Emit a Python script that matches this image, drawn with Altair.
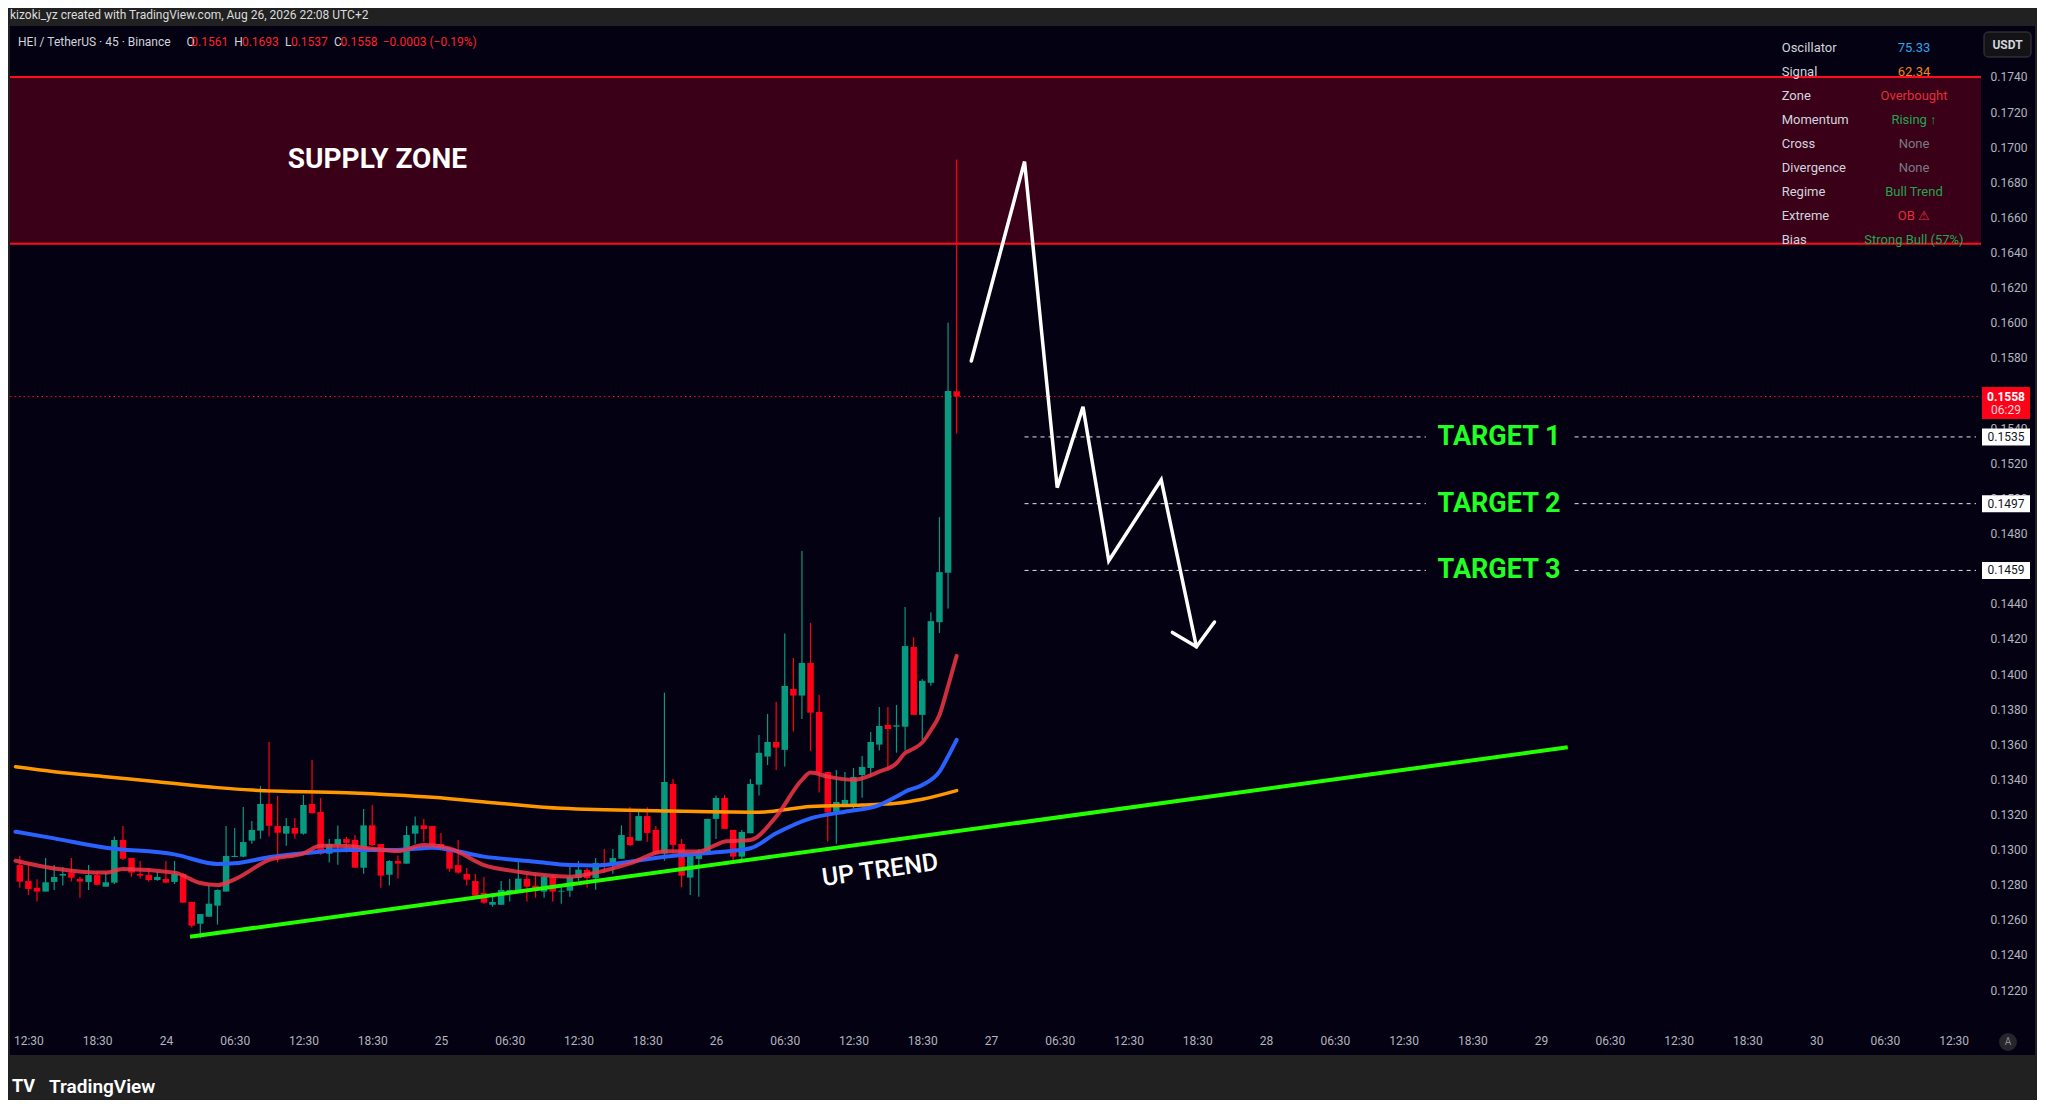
import altair as alt
import pandas as pd

# ---------------- data ----------------
bars = list(range(-1, 109))
opens = [
    0.12912, 0.12821, 0.12783, 0.12761, 0.12816, 0.12852, 0.12870, 0.12833, 0.12816, 0.12855,
    0.12789, 0.12812, 0.13055, 0.12952, 0.12861, 0.12855, 0.12827, 0.12833, 0.12816, 0.12861,
    0.12702, 0.12578, 0.12618, 0.12681, 0.12761, 0.12958, 0.12960, 0.13051, 0.13108, 0.13260,
    0.13134, 0.13091, 0.13123, 0.13091, 0.13260, 0.13214, 0.12977, 0.13028, 0.13060, 0.13055,
    0.12897, 0.13138, 0.13032, 0.12857, 0.12935, 0.12920, 0.13091, 0.13138, 0.13134, 0.13032,
    0.13003, 0.12912, 0.12861, 0.12821, 0.12753, 0.12686, 0.12686, 0.12762, 0.12766, 0.12833,
    0.12795, 0.12761, 0.12844, 0.12761, 0.12766, 0.12838, 0.12884, 0.12838, 0.12924, 0.12920,
    0.12948, 0.13072, 0.13051, 0.13191, 0.13112, 0.12977, 0.13374, 0.13032, 0.12841, 0.12947,
    0.12970, 0.13175, 0.13294, 0.13112, 0.12960, 0.13093, 0.13370, 0.13530, 0.13613, 0.13568,
    0.13915, 0.13877, 0.14063, 0.13784, 0.13442, 0.13216, 0.13256, 0.13256, 0.13425, 0.13465,
    0.13598, 0.13710, 0.13700, 0.13700, 0.14154, 0.13767, 0.13950, 0.14295, 0.14576, 0.15610,
]
highs = [
    0.12964, 0.12922, 0.12831, 0.12952, 0.12912, 0.12901, 0.12952, 0.12846, 0.12912, 0.12874,
    0.12874, 0.13074, 0.13134, 0.12952, 0.12935, 0.12893, 0.12872, 0.12935, 0.12935, 0.12865,
    0.12702, 0.12633, 0.12795, 0.12774, 0.13134, 0.13123, 0.13243, 0.13163, 0.13362, 0.13613,
    0.13305, 0.13180, 0.13180, 0.13311, 0.13510, 0.13294, 0.13060, 0.13138, 0.13074, 0.13083,
    0.13231, 0.13254, 0.13032, 0.12941, 0.12966, 0.13134, 0.13189, 0.13174, 0.13134, 0.13095,
    0.13003, 0.13055, 0.12895, 0.12861, 0.12844, 0.12738, 0.12821, 0.12833, 0.12929, 0.12857,
    0.12861, 0.12857, 0.12861, 0.12804, 0.12901, 0.12935, 0.12895, 0.12952, 0.13003, 0.13003,
    0.13138, 0.13243, 0.13220, 0.13241, 0.13134, 0.13894, 0.13402, 0.13061, 0.12979, 0.13004,
    0.13175, 0.13308, 0.13311, 0.13112, 0.13112, 0.13402, 0.13653, 0.13773, 0.13841, 0.14230,
    0.14091, 0.14700, 0.14290, 0.13881, 0.13442, 0.13454, 0.13442, 0.13465, 0.13533, 0.13670,
    0.13812, 0.13812, 0.13824, 0.14381, 0.14210, 0.13970, 0.14352, 0.14893, 0.16000, 0.16930,
]
lows = [
    0.12783, 0.12742, 0.12704, 0.12761, 0.12770, 0.12795, 0.12818, 0.12726, 0.12770, 0.12795,
    0.12789, 0.12804, 0.12941, 0.12846, 0.12835, 0.12818, 0.12823, 0.12808, 0.12804, 0.12698,
    0.12556, 0.12495, 0.12618, 0.12573, 0.12761, 0.12956, 0.12956, 0.13034, 0.13062, 0.13074,
    0.12926, 0.13022, 0.13062, 0.13085, 0.13205, 0.12971, 0.12926, 0.12914, 0.12983, 0.12897,
    0.12863, 0.13021, 0.12783, 0.12795, 0.12835, 0.12920, 0.13034, 0.13045, 0.13021, 0.13000,
    0.12874, 0.12863, 0.12795, 0.12738, 0.12692, 0.12675, 0.12686, 0.12704, 0.12766, 0.12704,
    0.12726, 0.12726, 0.12704, 0.12692, 0.12732, 0.12823, 0.12783, 0.12772, 0.12867, 0.12863,
    0.12948, 0.13021, 0.13051, 0.13045, 0.12977, 0.12937, 0.12979, 0.12786, 0.12742, 0.12732,
    0.12970, 0.13061, 0.13118, 0.12941, 0.12941, 0.13093, 0.13308, 0.13482, 0.13454, 0.13473,
    0.13672, 0.13744, 0.13562, 0.13325, 0.13046, 0.13034, 0.13245, 0.13233, 0.13296, 0.13414,
    0.13564, 0.13459, 0.13552, 0.13564, 0.13767, 0.13625, 0.13933, 0.14234, 0.14373, 0.15370,
]
closes = [
    0.12818, 0.12776, 0.12761, 0.12814, 0.12844, 0.12861, 0.12840, 0.12818, 0.12855, 0.12800,
    0.12814, 0.13055, 0.12948, 0.12869, 0.12852, 0.12827, 0.12844, 0.12812, 0.12861, 0.12698,
    0.12567, 0.12633, 0.12692, 0.12770, 0.12964, 0.12964, 0.13043, 0.13112, 0.13260, 0.13136,
    0.13096, 0.13134, 0.13091, 0.13254, 0.13208, 0.12977, 0.13032, 0.13060, 0.13038, 0.12897,
    0.13138, 0.13026, 0.12852, 0.12935, 0.12920, 0.13083, 0.13138, 0.13117, 0.13026, 0.13000,
    0.12891, 0.12869, 0.12829, 0.12738, 0.12698, 0.12702, 0.12770, 0.12770, 0.12835, 0.12789,
    0.12766, 0.12844, 0.12761, 0.12766, 0.12844, 0.12886, 0.12838, 0.12924, 0.12909, 0.12952,
    0.13083, 0.13026, 0.13191, 0.13095, 0.12977, 0.13385, 0.13027, 0.12852, 0.12964, 0.12992,
    0.13175, 0.13294, 0.13118, 0.12960, 0.13101, 0.13374, 0.13551, 0.13613, 0.13581, 0.13932,
    0.13877, 0.14063, 0.13780, 0.13439, 0.13211, 0.13271, 0.13283, 0.13414, 0.13471, 0.13613,
    0.13704, 0.13687, 0.13708, 0.14159, 0.13767, 0.13961, 0.14301, 0.14580, 0.15611, 0.15580,
]

fast_x = [-1.5, 3, 9, 11, 17, 20, 22, 24, 28, 32, 34, 37, 39, 43, 46, 49, 53, 57, 60, 63,
          66, 70, 74, 78, 80, 81, 84, 87, 90, 91, 93, 96, 99, 101, 102, 103, 104, 105, 106, 107, 108]
fast_y = [0.12937, 0.12893, 0.12869, 0.12890, 0.12869, 0.12810, 0.12798, 0.12831, 0.12941, 0.12979,
          0.13022, 0.13021, 0.13011, 0.12992, 0.13026, 0.13007, 0.12912, 0.12874, 0.12855, 0.12846,
          0.12869, 0.12922, 0.12990, 0.12989, 0.13027, 0.13046, 0.13055, 0.13188, 0.13397, 0.13439,
          0.13416, 0.13397, 0.13444, 0.13492, 0.13550, 0.13575, 0.13610, 0.13680, 0.13767, 0.13930, 0.14103]
mid_x = [-1.5, 3, 9, 17, 22, 24, 28, 32, 37, 43, 47, 53, 59, 63, 66, 70, 74, 80, 84, 87,
         91, 95, 99, 101, 102, 104, 106, 107, 108]
mid_y = [0.13102, 0.13064, 0.13011, 0.12973, 0.12918, 0.12922, 0.12956, 0.12979, 0.12998, 0.12998,
         0.13011, 0.12960, 0.12931, 0.12912, 0.12910, 0.12931, 0.12960, 0.12985, 0.13008, 0.13093,
         0.13178, 0.13216, 0.13254, 0.13302, 0.13330, 0.13368, 0.13444, 0.13530, 0.13625]
slow_x = [-1.5, 3, 9, 15, 22, 26, 37, 47, 55, 62, 74, 85, 91, 97, 101, 104, 108]
slow_y = [0.13472, 0.13444, 0.13415, 0.13387, 0.13353, 0.13339, 0.13324, 0.13298, 0.13263, 0.13235,
          0.13220, 0.13213, 0.13245, 0.13254, 0.13264, 0.13287, 0.13336]

trend_x = [18.8, 179.1]
trend_y = [0.12504, 0.13583]
zig_x = [109.7, 115.9, 119.7, 122.7, 125.7, 131.8, 135.9]
zig_y = [0.15782, 0.16918, 0.15061, 0.15521, 0.14645, 0.15106, 0.14155]
head_x = [133.1, 135.9, 138.0]
head_y = [0.14237, 0.14155, 0.14296]

supply_low, supply_high = 0.1645, 0.1740
supply_label = "SUPPLY ZONE"
supply_label_pos = (40.6, 0.16925)
uptrend_label = "UP TREND"
uptrend_pos = (99.1, 0.12884)

target_prices = [0.1535, 0.1497, 0.1459]
target_names = ["TARGET 1", "TARGET 2", "TARGET 3"]
target_box_text = ["0.1535", "0.1497", "0.1459"]
target_start, target_gap0, target_gap1, target_end = 115.9, 162.6, 179.9, 226.6
target_label_x = 171.1

last_price = 0.1558
last_price_text = "0.1558"
countdown = "06:29"

price_ticks = [0.1220, 0.1240, 0.1260, 0.1280, 0.1300, 0.1320, 0.1340, 0.1360, 0.1380,
               0.1400, 0.1420, 0.1440, 0.1460, 0.1480, 0.1500, 0.1520, 0.1540, 0.1560,
               0.1580, 0.1600, 0.1620, 0.1640, 0.1660, 0.1680, 0.1700, 0.1720, 0.1740]
time_labels = ["12:30", "18:30", "24", "06:30", "12:30", "18:30", "25", "06:30", "12:30", "18:30",
               "26", "06:30", "12:30", "18:30", "27", "06:30", "12:30", "18:30", "28", "06:30",
               "12:30", "18:30", "29", "06:30", "12:30", "18:30", "30", "06:30", "12:30"]
time_ticks = list(range(0, 225, 8))

table_labels = ["Oscillator", "Signal", "Zone", "Momentum", "Cross", "Divergence", "Regime", "Extreme", "Bias"]
table_values = ["75.33", "62.34", "Overbought", "Rising ↑", "None", "None", "Bull Trend", "OB ⚠", "Strong Bull (57%)"]
table_colors = ["#2aa6f0", "#f5821f", "#e0303a", "#22a550", "#7a7a86", "#7a7a86", "#22a550", "#e0303a", "#22a550"]

header_text = "kizoki_yz created with TradingView.com, Aug 26, 2026 22:08 UTC+2"
legend_parts = ["HEI / TetherUS · 45 · Binance", "O", "0.1561", "H", "0.1693", "L", "0.1537", "C", "0.1558", "−0.0003 (−0.19%)"]

# ---------------- layout / style ----------------
PW, PH = 1971, 998
BG = "#040212"
GRAY = "#212121"
UP = "#089981"
DN = "#ff0019"
FONT = "Roboto"
AXC = "#b2b5be"

xs = alt.Scale(domain=[-1.56, 226.6], nice=False, zero=False)
ys = alt.Scale(domain=[0.12007, 0.1769], nice=False, zero=False)

label_expr = "[" + ",".join("'%s'" % t for t in time_labels) + "][round(datum.value/8)]"
xaxis = alt.Axis(values=time_ticks, labelExpr=label_expr, labelColor=AXC, labelFont=FONT,
                 labelFontSize=12, domain=False, ticks=False, grid=False, title=None,
                 labelAngle=0, labelOverlap=False, labelFlush=False, labelPadding=11)
yaxis = alt.Axis(orient="right", values=price_ticks, format=".4f", labelColor=AXC, labelFont=FONT,
                 labelFontSize=12, domain=False, ticks=False, grid=False, title=None,
                 labelOverlap=False, labelFlush=False, labelPadding=9)


def X(f):
    return alt.X(f, type="quantitative", scale=xs, axis=xaxis)


def Y(f):
    return alt.Y(f, type="quantitative", scale=ys, axis=yaxis)


one = pd.DataFrame({"k": [0]})


def rect_px(x0, x1, y0, y1, color, **kw):
    return alt.Chart(one).mark_rect(color=color, **kw).encode(
        x=alt.value(x0), x2=alt.value(x1), y=alt.value(y0), y2=alt.value(y1))


def text_px(t, x, y, **kw):
    return alt.Chart(pd.DataFrame({"t": [t]})).mark_text(font=FONT, baseline="middle", **kw).encode(
        x=alt.value(x), y=alt.value(y), text="t:N")


candles = pd.DataFrame({"bar": bars, "open": opens, "high": highs, "low": lows, "close": closes})
candles["dir"] = ["up" if c >= o else "down" for o, c in zip(opens, closes)]
col = alt.Color("dir:N", scale=alt.Scale(domain=["up", "down"], range=[UP, DN]), legend=None)

layers = []
# frame
layers.append(rect_px(-2, 2027, -18, 0, GRAY))
layers.append(rect_px(-2, 2027, 1029, 1074, GRAY))
layers.append(rect_px(-2, 0, -18, 1074, GRAY))
layers.append(rect_px(2025, 2027, -18, 1074, GRAY))

# supply zone
sz = pd.DataFrame({"lo": [supply_low], "hi": [supply_high]})
layers.append(alt.Chart(sz).mark_rect(color="#3a0018").encode(
    x=alt.value(0), x2=alt.value(PW), y=Y("lo"), y2="hi:Q"))
layers.append(alt.Chart(pd.DataFrame({"p": [supply_low, supply_high]})).mark_rule(
    color="#ff0a1e", strokeWidth=2).encode(x=alt.value(0), x2=alt.value(PW), y=Y("p")))

# last price dotted line
layers.append(alt.Chart(pd.DataFrame({"p": [last_price]})).mark_rule(
    color=DN, strokeWidth=1, strokeDash=[1.5, 3]).encode(x=alt.value(0), x2=alt.value(PW), y=Y("p")))

# candles
layers.append(alt.Chart(candles).mark_rule(strokeWidth=1.2).encode(
    x=X("bar"), y=Y("low"), y2="high:Q", color=col))
layers.append(alt.Chart(candles).mark_bar(size=6.5).encode(
    x=X("bar"), y=Y("open"), y2="close:Q", color=col))

# moving averages
for xv, yv, c, w, op in [(slow_x, slow_y, "#ff9800", 3.5, 1.0),
                          (mid_x, mid_y, "#2962ff", 4, 1.0),
                          (fast_x, fast_y, "#f23645", 4, 0.85)]:
    layers.append(alt.Chart(pd.DataFrame({"x": xv, "y": yv})).mark_line(
        color=c, strokeWidth=w, opacity=op, interpolate="monotone", strokeCap="round").encode(
        x=X("x"), y=Y("y")))

# trend line
layers.append(alt.Chart(pd.DataFrame({"x": trend_x, "y": trend_y})).mark_line(
    color="#22ff00", strokeWidth=4).encode(x=X("x"), y=Y("y")))

# target dashed lines
seg = []
for p in target_prices:
    seg.append({"p": p, "x0": target_start, "x1": target_gap0})
    seg.append({"p": p, "x0": target_gap1, "x1": target_end})
layers.append(alt.Chart(pd.DataFrame(seg)).mark_rule(
    color="#e6e6e6", strokeWidth=1, strokeDash=[4, 4]).encode(x=X("x0"), x2="x1:Q", y=Y("p")))

# white zigzag arrow
zz = pd.DataFrame({"x": zig_x, "y": zig_y, "o": list(range(len(zig_x)))})
layers.append(alt.Chart(zz).mark_line(color="white", strokeWidth=3.5, strokeCap="round",
                                      strokeJoin="miter").encode(x=X("x"), y=Y("y"), order="o:Q"))
hd = pd.DataFrame({"x": head_x, "y": head_y, "o": list(range(len(head_x)))})
layers.append(alt.Chart(hd).mark_line(color="white", strokeWidth=3.5, strokeCap="round").encode(
    x=X("x"), y=Y("y"), order="o:Q"))

# labels on chart
layers.append(alt.Chart(pd.DataFrame({"x": [supply_label_pos[0]], "y": [supply_label_pos[1]], "t": [supply_label]}))
              .mark_text(font=FONT, fontSize=28, fontWeight="bold", color="white", align="center", baseline="middle")
              .encode(x=X("x"), y=Y("y"), text="t:N"))
layers.append(alt.Chart(pd.DataFrame({"x": [uptrend_pos[0]], "y": [uptrend_pos[1]], "t": [uptrend_label]}))
              .mark_text(font=FONT, fontSize=25, fontWeight=500, color="white", align="center",
                         baseline="middle", angle=352)
              .encode(x=X("x"), y=Y("y"), text="t:N"))
layers.append(alt.Chart(pd.DataFrame({"x": [target_label_x] * 3, "y": target_prices, "t": target_names}))
              .mark_text(font=FONT, fontSize=27, fontWeight="bold", color="#22ff22", align="center", baseline="middle")
              .encode(x=X("x"), y=Y("y"), text="t:N"))

# price axis boxes
tb = pd.DataFrame({"p": target_prices, "t": target_box_text})
layers.append(alt.Chart(tb).mark_rect(color="white", yOffset=-8.5, y2Offset=8.5).encode(
    x=alt.value(1972), x2=alt.value(2020), y=Y("p"), y2="p:Q"))
layers.append(alt.Chart(tb).mark_text(font=FONT, fontSize=12, color="#131722", align="center",
                                      baseline="middle").encode(x=alt.value(1996), y=Y("p"), text="t:N"))
lp = pd.DataFrame({"p": [last_price], "t": [last_price_text], "c": [countdown]})
layers.append(alt.Chart(lp).mark_rect(color=DN, yOffset=-9.5, y2Offset=22.5).encode(
    x=alt.value(1972), x2=alt.value(2020), y=Y("p"), y2="p:Q"))
layers.append(alt.Chart(lp).mark_text(font=FONT, fontSize=12, fontWeight="bold", color="white",
                                      align="center", baseline="middle").encode(
    x=alt.value(1996), y=Y("p"), text="t:N"))
layers.append(alt.Chart(lp).mark_text(font=FONT, fontSize=12, color="#ffd6d9", align="center",
                                      baseline="middle", yOffset=13.5).encode(
    x=alt.value(1996), y=Y("p"), text="c:N"))

# USDT box + A button
layers.append(rect_px(1974, 2021, 6, 31, "#131316", stroke="#3c3c44", strokeWidth=1, cornerRadius=4))
layers.append(text_px("USDT", 1997.5, 18.5, fontSize=12, fontWeight="bold", color="#d1d4dc", align="center"))
layers.append(alt.Chart(one).mark_circle(size=320, color="#25252b", opacity=1).encode(
    x=alt.value(1998), y=alt.value(1016)))
layers.append(text_px("A", 1998, 1016, fontSize=10, color="#8a8d96", align="center"))

# table
tab = pd.DataFrame({"label": table_labels, "value": table_values, "color": table_colors,
                    "py": [22.3 + 24 * i for i in range(len(table_labels))]})
layers.append(alt.Chart(tab).mark_text(font=FONT, fontSize=13, color="#d1d4dc", align="left",
                                       baseline="middle").encode(
    x=alt.value(1771.7), y=alt.Y("py:Q", scale=None, axis=None), text="label:N"))
layers.append(alt.Chart(tab).mark_text(font=FONT, fontSize=13, align="center", baseline="middle").encode(
    x=alt.value(1904), y=alt.Y("py:Q", scale=None, axis=None), text="value:N",
    color=alt.Color("color:N", scale=None)))

# header & legend
layers.append(text_px(header_text, 0, -11, fontSize=12, color="#dcdcdc", align="left"))
legend_x = [8, 176.4, 181.3, 224.2, 231.9, 275, 280.9, 324, 330.6, 372.7]
legend_c = ["#d1d4dc", "#d1d4dc", "#ff2030", "#d1d4dc", "#ff2030", "#d1d4dc", "#ff2030", "#d1d4dc", "#ff2030", "#ff2030"]
lg = pd.DataFrame({"t": legend_parts, "px": legend_x, "c": legend_c})
layers.append(alt.Chart(lg).mark_text(font=FONT, fontSize=12, align="left", baseline="middle").encode(
    x=alt.X("px:Q", scale=None, axis=None), y=alt.value(15.7), text="t:N", color=alt.Color("c:N", scale=None)))

# footer logo
layers.append(text_px("TV", 2, 1061, fontSize=18, fontWeight="bold", color="white", align="left"))
layers.append(text_px("TradingView", 39, 1061, fontSize=19, fontWeight=600, color="white", align="left"))

chart = alt.layer(*layers).properties(
    width=PW, height=PH,
    padding={"left": 2, "top": 18, "right": 56, "bottom": 76},
    autosize=alt.AutoSizeParams(type="none"),
).configure(background=BG).configure_view(stroke=None)

chart.save("out.html", embed_options={"renderer": "svg", "actions": False})
